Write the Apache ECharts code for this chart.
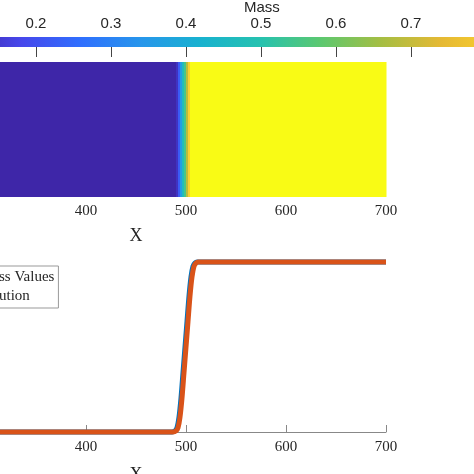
<!DOCTYPE html>
<html><head><meta charset="utf-8">
<script src="https://cdn.jsdelivr.net/npm/echarts@6/dist/echarts.min.js"></script>
<style>html,body{margin:0;padding:0;background:#fff}#c{width:474px;height:474px}</style>
</head><body><div id="c"></div>
<script>
// Mass profile (numerical, blue) and exact solution (orange)
const massX = [200, 480, 486, 489, 491, 493, 495, 497, 499, 501, 503, 505, 507, 509, 511, 700];
const massValues = [0.1, 0.1, 0.1, 0.105, 0.12, 0.17, 0.26, 0.38, 0.5, 0.62, 0.74, 0.83, 0.88, 0.895, 0.9, 0.9];
const exactX = [200, 481, 487, 490, 492, 494, 496, 498, 500, 502, 504, 506, 508, 510, 512, 700];
const exactValues = [0.1, 0.1, 0.1, 0.105, 0.12, 0.17, 0.26, 0.38, 0.5, 0.62, 0.74, 0.83, 0.88, 0.895, 0.9, 0.9];
// Heat strip columns
const heatX = [200, 490, 492, 494, 496, 498, 500, 502, 504, 700];
const heatMass = [0.1, 0.13, 0.22, 0.36, 0.47, 0.55, 0.68, 0.82, 0.9];
const colorbarRange = [0.1, 0.9];
const colorbarTicks = [0.2, 0.3, 0.4, 0.5, 0.6, 0.7];
const legendNames = ['Mass Values', 'Solution'];

const parula = ['#3e26a8','#4747eb','#2f6ffe','#2796eb','#18b2cf','#26c2af','#5cc86f','#a5be43','#e5b934','#fbd02c','#f9fb15'];
const heatData = heatMass.map((m, i) => [heatX[i], heatX[i + 1], m]);
const serif = 'Liberation Serif';
const chart = echarts.init(document.getElementById('c'));
chart.setOption({
  animation: false,
  graphic: [{ type: 'text', left: 244, top: 0, style: { text: 'Mass', font: '15px "Liberation Sans"', fill: '#262626' } }],
  visualMap: {
    type: 'continuous', show: false, min: colorbarRange[0], max: colorbarRange[1],
    seriesIndex: 0, dimension: 2, inRange: { color: parula }
  },
  grid: [
    { left: -39, width: 600, top: 37, height: 10, outerBoundsMode: 'none' },
    { left: -114, width: 500, top: 62, height: 135, outerBoundsMode: 'none' },
    { left: -114, width: 500, top: 262, height: 170, outerBoundsMode: 'none' }
  ],
  xAxis: [
    { gridIndex: 0, type: 'value', min: 0.1, max: 0.9, interval: 0.1, position: 'top', z: 10,
      axisLine: { show: false }, splitLine: { show: false },
      axisTick: { inside: true, length: 10, lineStyle: { color: '#444' } },
      axisLabel: { margin: 6, fontSize: 15, fontFamily: 'Liberation Sans', color: '#262626',
        formatter: v => (colorbarTicks.some(t => Math.abs(t - v) < 1e-6) ? v.toFixed(1) : '') } },
    { gridIndex: 1, type: 'value', min: 200, max: 700, interval: 100, name: 'X', nameLocation: 'middle', nameGap: 30,
      nameTextStyle: { fontFamily: serif, fontSize: 18, color: '#262626' },
      axisLine: { show: false }, axisTick: { show: false }, splitLine: { show: false },
      axisLabel: { margin: 7, fontSize: 15, fontFamily: serif, color: '#262626' } },
    { gridIndex: 2, type: 'value', min: 200, max: 700, interval: 100, name: 'X', nameLocation: 'middle', nameGap: 34,
      nameTextStyle: { fontFamily: serif, fontSize: 18, color: '#262626' },
      axisLine: { lineStyle: { color: '#888' } }, axisTick: { inside: true, length: 7, lineStyle: { color: '#888' } },
      splitLine: { show: false },
      axisLabel: { margin: 8, fontSize: 15, fontFamily: serif, color: '#262626' } }
  ],
  yAxis: [
    { gridIndex: 0, type: 'value', show: false, min: 0, max: 1 },
    { gridIndex: 1, type: 'value', show: false, min: 0, max: 1 },
    { gridIndex: 2, type: 'value', show: false, min: 0.1, max: 0.9 }
  ],
  legend: {
    orient: 'vertical', left: -57, top: 266, data: legendNames, itemWidth: 25, itemGap: 4,
    backgroundColor: '#fff', borderColor: '#999', borderWidth: 1, borderRadius: 0, padding: [4, 4, 4, 5],
    textStyle: { fontFamily: serif, fontSize: 15, color: '#262626' }
  },
  series: [
    { type: 'custom', xAxisIndex: 1, yAxisIndex: 1, data: heatData, encode: { x: [0, 1] },
      renderItem: (params, api) => {
        const p0 = api.coord([api.value(0), 1]);
        const p1 = api.coord([api.value(1), 0]);
        return { type: 'rect', shape: { x: p0[0], y: p0[1], width: p1[0] - p0[0] + 0.5, height: p1[1] - p0[1] },
          style: { fill: api.visual('color') } };
      } },
    { type: 'line', name: legendNames[0], xAxisIndex: 2, yAxisIndex: 2, showSymbol: false, smooth: 0.3, clip: false,
      data: massX.map((x, i) => [x, massValues[i]]), lineStyle: { color: '#0072bd', width: 5 }, itemStyle: { color: '#0072bd' } },
    { type: 'line', name: legendNames[1], xAxisIndex: 2, yAxisIndex: 2, showSymbol: false, smooth: 0.3, clip: false,
      data: exactX.map((x, i) => [x, exactValues[i]]), lineStyle: { color: '#d95319', width: 5 }, itemStyle: { color: '#d95319' } },
    { type: 'custom', xAxisIndex: 0, yAxisIndex: 0, data: [colorbarRange], encode: { x: [0, 1] }, z: 1,
      renderItem: (params, api) => {
        const p0 = api.coord([api.value(0), 1]);
        const p1 = api.coord([api.value(1), 0]);
        return { type: 'rect', shape: { x: p0[0], y: p0[1], width: p1[0] - p0[0], height: p1[1] - p0[1] },
          style: { fill: new echarts.graphic.LinearGradient(0, 0, 1, 0,
            parula.map((c, i) => ({ offset: i / (parula.length - 1), color: c }))) } };
      } }
  ]
});
</script></body></html>
